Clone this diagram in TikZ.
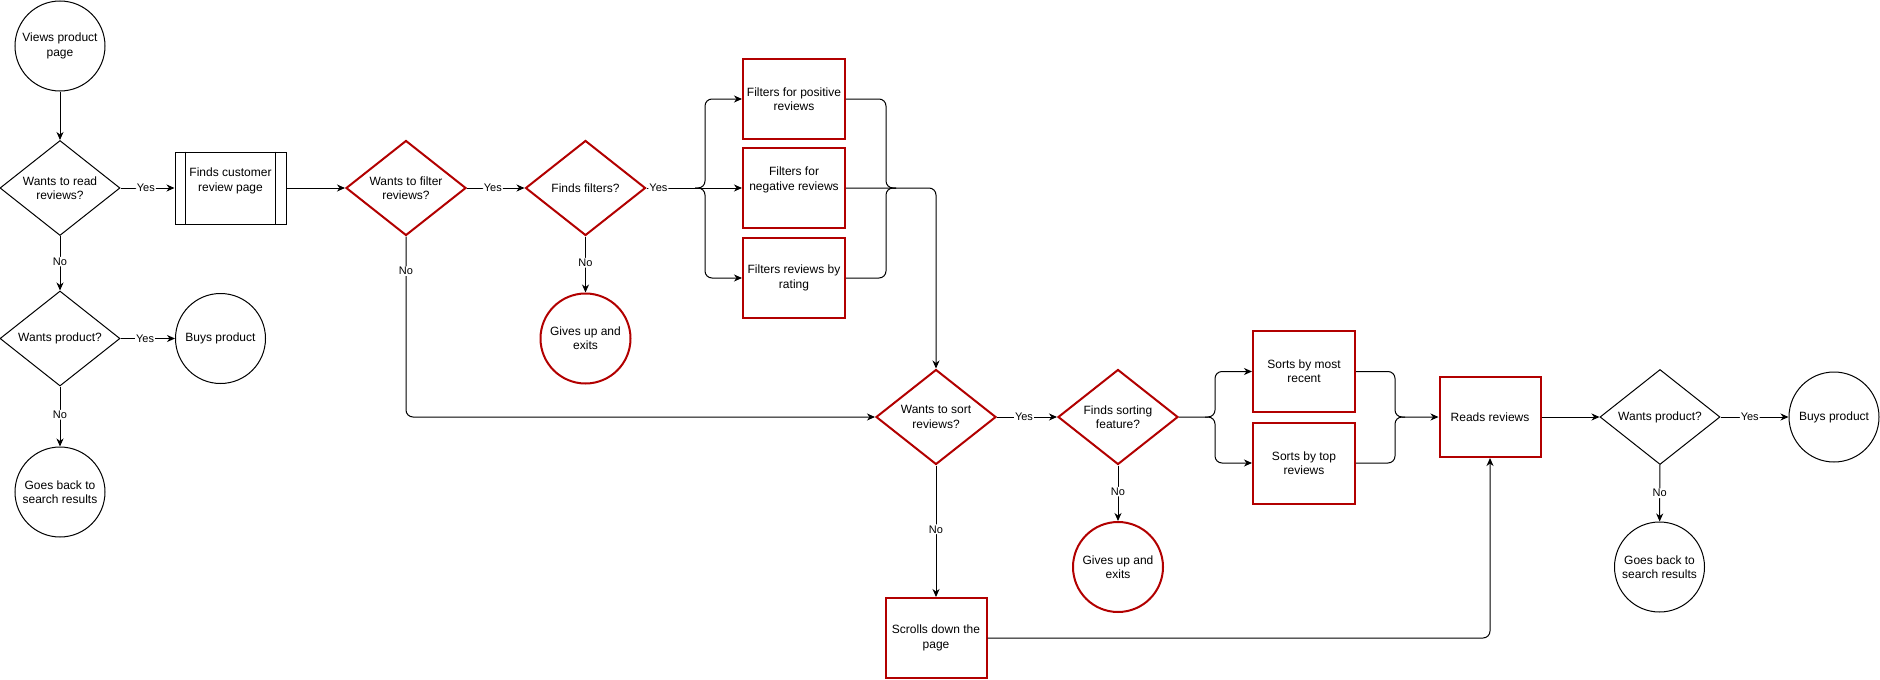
\documentclass[tikz,border=0pt]{standalone}
\usepackage{fontspec}
\setmainfont{Liberation Sans}
\usetikzlibrary{shapes.geometric,arrows.meta}
\definecolor{dred}{HTML}{B20000}
\begin{document}
\begin{tikzpicture}[x=1pt,y=-1pt,
  base/.style={font=\fontsize{12}{14.4}\selectfont, align=center, inner sep=0pt},
  bcirc/.style={base, circle, draw=black, line width=1pt, minimum size=90pt},
  rcirc/.style={base, circle, draw=dred, line width=2pt, minimum size=90pt},
  bdia/.style={base, diamond, draw=black, line width=1pt, minimum width=120pt, minimum height=95pt},
  rdia/.style={base, diamond, draw=dred, line width=2pt, minimum width=120pt, minimum height=95pt},
  rbox/.style={base, rectangle, draw=dred, line width=2pt, minimum width=102pt, minimum height=80pt},
  pbox/.style={base, rectangle, draw=black, line width=1pt, minimum width=111pt, minimum height=72pt},
  line/.style={draw=black, line width=1pt, rounded corners=7pt},
  conn/.style={line, -{Stealth[length=8pt,width=7pt,inset=2.5pt]}},
  elab/.style={fill=white, inner sep=1pt, font=\fontsize{11}{13}\selectfont},
]
\useasboundingbox (0,0) rectangle (1880,680);

% left column
\node[bcirc] (vp) at (60,46) {Views product\\page};
\node[bdia, label={[base]center:{Wants to read\\reviews?}}] (wr) at (60,188) {};
\node[pbox, label={[base,yshift=7pt]center:{Finds customer\\review page}}] (fcr) at (230.5,188) {};
\draw[line width=1pt] ([xshift=11pt]fcr.north west) -- ([xshift=11pt]fcr.south west);
\draw[line width=1pt] ([xshift=-11pt]fcr.north east) -- ([xshift=-11pt]fcr.south east);
\node[bdia, label={[base]center:{Wants product?}}] (wp1) at (60,338.5) {};
\node[bcirc] (bp1) at (220.5,338.5) {Buys product};
\node[bcirc] (gb1) at (60,492) {Goes back to\\search results};

% filter part
\node[rdia, label={[base]center:{Wants to filter\\reviews?}}] (wf) at (406,188) {};
\node[rdia, label={[base]center:{Finds filters?}}] (ff) at (585.5,188) {};
\node[rcirc] (gu1) at (585.5,338.5) {Gives up and\\exits};
\node[rbox] (fpos) at (794,99) {Filters for positive\\reviews};
\node[rbox, label={[base,yshift=8pt]center:{Filters for\\negative reviews}}] (fneg) at (794,188) {};
\node[rbox] (frat) at (794,278) {Filters reviews by\\rating};

% sort part
\node[rdia, label={[base]center:{Wants to sort\\reviews?}}] (ws) at (936,417) {};
\node[rdia, label={[base]center:{Finds sorting\\feature?}}] (fsf) at (1118,417) {};
\node[rcirc] (gu2) at (1118,567) {Gives up and\\exits};
\node[rbox, minimum height=81pt] (srec) at (1304,371.5) {Sorts by most\\recent};
\node[rbox, minimum height=81pt] (stop) at (1304,463) {Sorts by top\\reviews};
\node[rbox, minimum width=101pt] (sd) at (936,638) {Scrolls down the\\page};
\node[rbox, minimum width=101pt] (rr) at (1490,417) {Reads reviews};
\node[bdia, label={[base]center:{Wants product?}}] (wp2) at (1660,417) {};
\node[bcirc] (bp2) at (1834,417) {Buys product};
\node[bcirc] (gb2) at (1659.5,567) {Goes back to\\search results};

% waypoints
\coordinate (fs0) at (695,188);
\coordinate (fs) at (705,188);
\coordinate (fm) at (886,188);
\coordinate (fm1) at (896,188);
\coordinate (fc) at (936,188);
\coordinate (ss0) at (1205,417);
\coordinate (ss) at (1215,417);
\coordinate (sm) at (1395,417);
\coordinate (sm1) at (1405,417);

% connectors
\draw[conn] (vp) -- (wr);
\draw[conn] (wr) -- node[elab,pos=0.47]{No} (wp1);
\draw[conn] (wr) -- node[elab,pos=0.47]{Yes} (fcr);
\draw[conn] (fcr) -- (wf);
\draw[conn] (wp1) -- node[elab,pos=0.45]{Yes} (bp1);
\draw[conn] (wp1) -- node[elab,pos=0.47]{No} (gb1);
\draw[conn] (wf) -- node[elab,pos=0.45]{Yes} (ff);
\draw[conn] (ff) -- node[elab,pos=0.47]{No} (gu1);
\draw[conn] (wf.south) |- node[elab,pos=0.096]{No} (ws.west);

\draw[conn] (fs0) -- (fs) |- (fpos.west);
\draw[conn] (fs0) -- (fs) |- (frat.west);
\draw[line] (fpos.east) -| (fm) -- (fm1);
\draw[line] (frat.east) -| (fm) -- (fm1);
\draw[conn] (fneg.east) -- (fc) -- (ws.north);
\draw[conn] (ff.east) -- node[elab,pos=0.125]{Yes} (fneg.west);

\draw[conn] (ws) -- node[elab,pos=0.45]{Yes} (fsf);
\draw[conn] (fsf) -- node[elab,pos=0.47]{No} (gu2);
\draw[conn] (ws) -- node[elab,pos=0.485]{No} (sd);
\draw[conn] (fsf.east) -- (ss) |- (srec.west);
\draw[conn] (ss0) -- (ss) |- (stop.west);
\draw[conn] (srec.east) -| (sm) -- (rr.west);
\draw[line] (stop.east) -| (sm) -- (sm1);
\draw[conn] (sd.east) -| (rr.south);
\draw[conn] (rr) -- (wp2);
\draw[conn] (wp2) -- node[elab,pos=0.43]{Yes} (bp2);
\draw[conn] (wp2) -- node[elab,pos=0.5]{No} (gb2);
\end{tikzpicture}
\end{document}
